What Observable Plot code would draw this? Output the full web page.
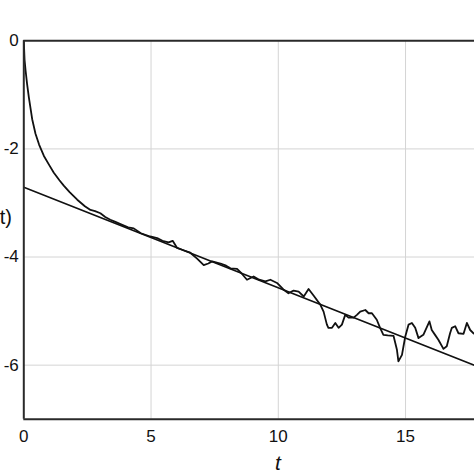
<!DOCTYPE html>
<html>
<head>
<meta charset="utf-8">
<script src="https://cdn.jsdelivr.net/npm/d3@7"></script>
<script src="https://cdn.jsdelivr.net/npm/@observablehq/plot@0.6"></script>
<style>
  html, body { margin: 0; padding: 0; background: #fff; overflow: hidden; }
  #chart { width: 474px; height: 474px; }
</style>
</head>
<body>
<div id="chart"></div>
<script>
// Measured series (time t, log value)
const tValues = [0, 0.03, 0.07, 0.13, 0.2, 0.33, 0.46, 0.6, 0.79, 1.0, 1.18, 1.4, 1.57, 1.8, 2.1, 2.4, 2.62, 2.8, 3.01, 3.2, 3.4, 3.6, 3.8, 4.1, 4.32, 4.6, 4.97, 5.24, 5.45, 5.69, 5.85, 6.02, 6.25, 6.54, 6.81, 7.07, 7.25, 7.40, 7.73, 7.95, 8.12, 8.38, 8.55, 8.77, 9.03, 9.25, 9.49, 9.69, 9.95, 10.2, 10.4, 10.6, 10.8, 11.0, 11.19, 11.4, 11.65, 11.78, 11.91, 11.97, 12.11, 12.24, 12.37, 12.5, 12.63, 12.76, 12.96, 13.09, 13.22, 13.42, 13.55, 13.68, 13.87, 14.0, 14.13, 14.3, 14.53, 14.66, 14.72, 14.86, 14.92, 14.99, 15.12, 15.25, 15.38, 15.51, 15.7, 15.94, 16.03, 16.16, 16.29, 16.49, 16.62, 16.75, 16.82, 16.95, 17.08, 17.28, 17.41, 17.54, 17.67, 17.8];
const yValues = [0, -0.35, -0.55, -0.80, -1.05, -1.45, -1.72, -1.92, -2.13, -2.30, -2.44, -2.58, -2.68, -2.80, -2.94, -3.06, -3.13, -3.15, -3.19, -3.26, -3.31, -3.35, -3.39, -3.45, -3.47, -3.56, -3.62, -3.65, -3.70, -3.73, -3.70, -3.83, -3.87, -3.92, -4.03, -4.15, -4.12, -4.08, -4.12, -4.16, -4.21, -4.22, -4.30, -4.42, -4.36, -4.42, -4.45, -4.42, -4.48, -4.60, -4.67, -4.62, -4.64, -4.73, -4.59, -4.72, -4.88, -5.01, -5.25, -5.31, -5.31, -5.22, -5.31, -5.25, -5.07, -5.12, -5.12, -5.07, -5.01, -4.98, -5.04, -5.04, -5.16, -5.31, -5.44, -5.45, -5.46, -5.71, -5.93, -5.81, -5.65, -5.47, -5.25, -5.22, -5.31, -5.50, -5.44, -5.19, -5.35, -5.44, -5.53, -5.70, -5.65, -5.41, -5.31, -5.28, -5.41, -5.42, -5.22, -5.35, -5.41, -5.45];

// Fitted straight line endpoints
const fitT = [0, 20];
const fitY = [-2.71, -6.43];

// Ticks
const xTicks = [0, 5, 10, 15];
const yTicks = [0, -2, -4, -6];
const xGrid = [5, 10, 15];
const yGrid = [-2, -4, -6];

const xLabel = "t";
const yLabel = "ln C(t)";

const series = tValues.map((t, i) => ({t, y: yValues[i]}));
const fit = fitT.map((t, i) => ({t, y: fitY[i]}));

const font = "'Liberation Sans', Arial, sans-serif";

const plot = Plot.plot({
  width: 474,
  height: 474,
  marginLeft: 23.3,
  marginRight: 0,
  marginTop: 40.3,
  marginBottom: 55.3,
  style: {fontFamily: font, fontSize: "16px", background: "#fff", color: "#111"},
  x: {domain: [0, 17.71]},
  y: {domain: [-7, 0]},
  marks: [
    Plot.ruleX(xGrid, {stroke: "#d4d4d4", strokeWidth: 1}),
    Plot.ruleY(yGrid, {stroke: "#d4d4d4", strokeWidth: 1}),
    Plot.line(fit, {x: "t", y: "y", stroke: "#111", strokeWidth: 1.6, clip: true}),
    Plot.line(series, {x: "t", y: "y", stroke: "#111", strokeWidth: 1.8, strokeLinejoin: "round", clip: true}),
    Plot.ruleY([0, -7], {stroke: "#2a2a2a", strokeWidth: 2}),
    Plot.ruleX([0], {stroke: "#2a2a2a", strokeWidth: 2}),
    Plot.axisX({ticks: xTicks, tickSize: 0, tickPadding: 11, fontSize: 17, label: null, tickFormat: d => String(d)}),
    Plot.axisY({ticks: yTicks, tickSize: 0, tickPadding: 5, fontSize: 17, label: null, tickFormat: d => String(d).replace("\u2212", "-")})
  ]
});

document.getElementById("chart").appendChild(plot);

const svg = d3.select(plot);
svg.append("text")
  .attr("x", 278)
  .attr("y", 470)
  .attr("text-anchor", "middle")
  .attr("font-family", font)
  .attr("font-size", 21)
  .attr("font-style", "italic")
  .attr("fill", "#111")
  .text(xLabel);
svg.append("text")
  .attr("x", 12)
  .attr("y", 224)
  .attr("text-anchor", "end")
  .attr("font-family", font)
  .attr("font-size", 20)
  .attr("fill", "#111")
  .text(yLabel);
</script>
</body>
</html>
